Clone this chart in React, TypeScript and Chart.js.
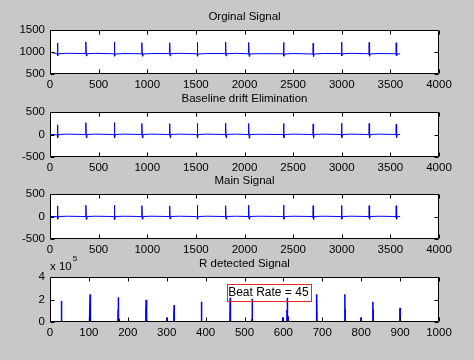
import React, { useEffect, useRef } from "react";
import { Chart, registerables } from "chart.js";

Chart.register(...registerables);

// ---------- data ----------
const ecgSamples = [
  0,
  69, 74, 77, 81, 87, 177,
  362, 367, 370, 374, 380, 470,
  654, 659, 662, 666, 672, 762,
  938, 943, 946, 950, 956, 1046,
  1223, 1228, 1231, 1235, 1241, 1331,
  1507, 1512, 1515, 1519, 1525, 1615,
  1798, 1803, 1806, 1810, 1816, 1906,
  2036, 2041, 2044, 2048, 2054, 2144,
  2394, 2399, 2402, 2406, 2412, 2502,
  2698, 2703, 2706, 2710, 2716, 2806,
  2990, 2995, 2998, 3002, 3008, 3098,
  3274, 3279, 3282, 3286, 3292, 3382,
  3552, 3557, 3560, 3564, 3570, 3600,
];

const originalSignal = [
  995,
  965, 950, 1205, 915, 960, 970,
  965, 950, 1230, 910, 960, 970,
  960, 945, 1230, 905, 955, 965,
  960, 945, 1210, 905, 955, 965,
  965, 950, 1210, 910, 960, 970,
  960, 945, 1220, 905, 955, 965,
  965, 950, 1225, 910, 960, 970,
  960, 945, 1215, 900, 955, 962,
  960, 945, 1215, 905, 955, 965,
  955, 940, 1200, 895, 955, 965,
  965, 950, 1225, 910, 960, 970,
  960, 945, 1215, 905, 955, 965,
  960, 945, 1210, 910, 960, 955,
];

const baselineRemoved = [
  0,
  -5, -15, 215, -70, 0, 8,
  0, -15, 265, -75, 0, 8,
  0, -15, 265, -75, 0, 8,
  0, -15, 245, -75, 0, 8,
  0, -15, 240, -70, 0, 8,
  0, -15, 245, -75, 0, 8,
  0, -15, 255, -70, 0, 8,
  0, -15, 245, -80, 0, 5,
  0, -15, 245, -75, 0, 8,
  0, -15, 235, -80, 0, 8,
  0, -15, 250, -70, 0, 8,
  0, -15, 245, -75, 0, 8,
  0, -15, 225, -65, 0, 0,
];

const mainSignal = [
  0,
  0, -20, 235, -60, 0, 6,
  0, -20, 250, -65, 0, 6,
  0, -20, 250, -70, 0, 6,
  0, -20, 240, -60, 0, 6,
  0, -20, 235, -55, 0, 6,
  0, -20, 250, -60, 0, 6,
  0, -20, 240, -60, 0, 6,
  0, -20, 250, -60, 0, 6,
  0, -20, 250, -60, 0, 6,
  0, -20, 240, -65, 0, 6,
  0, -20, 245, -60, 0, 6,
  0, -20, 240, -60, 0, 6,
  0, -20, 240, -60, 0, 0,
];

const rSpikeIndex = [
  29, 30, 101, 103, 104, 175, 176, 178, 246, 247, 249, 300, 318, 319, 389, 390,
  463, 464, 519, 520, 598, 609, 610, 612, 685, 686, 758, 759, 799, 830, 831, 899, 900,
];
const rSpikeValue = [
  124000, 187000, 38000, 246000, 160000, 110000, 220000, 30000, 120000, 198000, 30000, 40000, 83000, 151000, 180000, 130000,
  216000, 120000, 30000, 207000, 42000, 107000, 216000, 50000, 120000, 246000, 246000, 115000, 40000, 180000, 110000, 120000, 127000,
];
const rSignalEnd = 905;

const titles = ["Orginal Signal", "Baseline drift Elimination", "Main Signal", "R detected Signal"];
const beatRateLabel = "Beat Rate = 45";

// ---------- styling ----------
const FONT = "'Liberation Sans', Arial, Helvetica, sans-serif";
const BG = "rgb(200,200,200)";
const LINE = "rgb(0,0,255)";

type Cfg = {
  top: number;
  height: number;
  padTop: number;
  xAxisH: number;
  xMin: number;
  xMax: number;
  xStep: number;
  yMin: number;
  yMax: number;
  yStep: number;
  yFmt?: (v: number) => string;
  points: { x: number; y: number }[];
  title: string;
  lineWidth: number;
  extra?: (chart: any) => void;
};

function matlabPlugin(cfg: Cfg) {
  return {
    id: "matlabAxes",
    beforeDraw(chart: any) {
      const { ctx, chartArea: a } = chart;
      ctx.save();
      ctx.fillStyle = "#fff";
      ctx.fillRect(a.left, a.top, a.right - a.left, a.bottom - a.top);
      ctx.restore();
    },
    afterDraw(chart: any) {
      const { ctx, chartArea: a } = chart;
      const xs = chart.scales.x;
      const ys = chart.scales.y;
      const L = Math.round(a.left) + 0.5;
      const R = Math.round(a.right) - 0.5;
      const T = Math.round(a.top) + 0.5;
      const B = Math.round(a.bottom) - 0.5;
      ctx.save();
      ctx.strokeStyle = "#000";
      ctx.lineWidth = 1;
      ctx.beginPath();
      ctx.rect(L, T, R - L, B - T);
      const tl = 4;
      xs.ticks.forEach((t: any) => {
        const p = Math.round(xs.getPixelForValue(t.value)) + 0.5;
        ctx.moveTo(p, B);
        ctx.lineTo(p, B - tl);
        ctx.moveTo(p, T);
        ctx.lineTo(p, T + tl);
      });
      ys.ticks.forEach((t: any) => {
        const p = Math.round(ys.getPixelForValue(t.value)) + 0.5;
        ctx.moveTo(L, p);
        ctx.lineTo(L + tl, p);
        ctx.moveTo(R, p);
        ctx.lineTo(R - tl, p);
      });
      ctx.stroke();
      // title
      ctx.fillStyle = "#000";
      ctx.font = `11.5px ${FONT}`;
      ctx.textAlign = "center";
      ctx.textBaseline = "middle";
      ctx.fillText(cfg.title, (a.left + a.right) / 2, a.top - 13.5);
      ctx.restore();
      if (cfg.extra) cfg.extra(chart);
    },
  };
}

function drawRExtras(chart: any) {
  const { ctx, chartArea: a } = chart;
  const xs = chart.scales.x;
  const ys = chart.scales.y;
  ctx.save();
  ctx.fillStyle = "#000";
  ctx.textBaseline = "middle";
  ctx.textAlign = "left";
  ctx.font = `11.5px ${FONT}`;
  ctx.fillText("x 10", a.left, a.top - 10);
  const w = ctx.measureText("x 10").width;
  ctx.font = `8px ${FONT}`;
  ctx.fillText("5", a.left + w + 1, a.top - 18);
  // Beat rate label
  ctx.font = `12px ${FONT}`;
  const tx = xs.getPixelForValue(458);
  const ty = ys.getPixelForValue(258000);
  const tw = ctx.measureText(beatRateLabel).width;
  ctx.fillText(beatRateLabel, tx, ty);
  ctx.strokeStyle = "rgb(230,40,40)";
  ctx.lineWidth = 1;
  const bl = Math.round(tx - 1.5) + 0.5;
  const br = Math.round(tx + tw + 2) + 0.5;
  const bt = Math.round(ty - 9) + 0.5;
  const bb = Math.round(ty + 8.5) + 0.5;
  ctx.strokeRect(bl, bt, br - bl, bb - bt);
  ctx.restore();
}

function buildRPoints() {
  const pts: { x: number; y: number }[] = [{ x: 0, y: 0 }];
  rSpikeIndex.forEach((x, i) => {
    pts.push({ x: x - 0.5, y: 0 });
    pts.push({ x, y: rSpikeValue[i] });
    pts.push({ x: x + 0.5, y: 0 });
  });
  pts.push({ x: rSignalEnd, y: 0 });
  return pts;
}

const toPts = (ys: number[]) => ecgSamples.map((x, i) => ({ x, y: ys[i] }));

const configs: Cfg[] = [
  {
    top: 0, height: 90, padTop: 30, xAxisH: 16,
    xMin: 0, xMax: 4000, xStep: 500, yMin: 500, yMax: 1500, yStep: 500,
    points: toPts(originalSignal), title: titles[0], lineWidth: 1,
  },
  {
    top: 90, height: 82, padTop: 22, xAxisH: 15,
    xMin: 0, xMax: 4000, xStep: 500, yMin: -500, yMax: 500, yStep: 500,
    points: toPts(baselineRemoved), title: titles[1], lineWidth: 1,
  },
  {
    top: 172, height: 83, padTop: 22, xAxisH: 16,
    xMin: 0, xMax: 4000, xStep: 500, yMin: -500, yMax: 500, yStep: 500,
    points: toPts(mainSignal), title: titles[2], lineWidth: 1,
  },
  {
    top: 255, height: 105, padTop: 22, xAxisH: 38,
    xMin: 0, xMax: 1000, xStep: 100, yMin: 0, yMax: 400000, yStep: 200000,
    yFmt: (v: number) => String(v / 100000),
    points: buildRPoints(), title: titles[3], lineWidth: 1.5,
    extra: drawRExtras,
  },
];

function SubPlot({ cfg }: { cfg: Cfg }) {
  const ref = useRef<HTMLCanvasElement>(null);
  useEffect(() => {
    if (!ref.current) return;
    const tickFont = { family: FONT, size: 11.5 };
    const chart = new Chart(ref.current, {
      type: "line",
      data: {
        datasets: [
          {
            data: cfg.points,
            borderColor: LINE,
            borderWidth: cfg.lineWidth,
            pointRadius: 0,
            fill: false,
            tension: 0,
          },
        ],
      },
      options: {
        animation: false,
        responsive: false,
        maintainAspectRatio: false,
        events: [],
        layout: { padding: { top: cfg.padTop, right: 35, left: 0, bottom: 0 } },
        plugins: {
          legend: { display: false },
          tooltip: { enabled: false },
          title: { display: false },
        },
        scales: {
          x: {
            type: "linear",
            min: cfg.xMin,
            max: cfg.xMax,
            grid: { display: false, drawTicks: false },
            border: { display: false },
            ticks: {
              stepSize: cfg.xStep,
              autoSkip: false,
              maxRotation: 0,
              padding: 4,
              color: "#000",
              font: tickFont,
              callback: (v: any) => String(v),
            },
            afterFit(s: any) {
              s.height = cfg.xAxisH;
            },
          },
          y: {
            type: "linear",
            min: cfg.yMin,
            max: cfg.yMax,
            grid: { display: false, drawTicks: false },
            border: { display: false },
            ticks: {
              stepSize: cfg.yStep,
              autoSkip: false,
              padding: 5,
              color: "#000",
              font: tickFont,
              callback: (v: any) => (cfg.yFmt ? cfg.yFmt(Number(v)) : String(v)),
            },
            afterFit(s: any) {
              s.width = 50;
            },
          },
        },
      } as any,
      plugins: [matlabPlugin(cfg)],
    });
    return () => chart.destroy();
  }, [cfg]);
  return (
    <canvas
      ref={ref}
      width={474}
      height={cfg.height}
      style={{ position: "absolute", left: 0, top: cfg.top, width: 474, height: cfg.height, display: "block" }}
    />
  );
}

export default function App() {
  return (
    <div
      style={{
        position: "fixed",
        left: 0,
        top: 0,
        width: 474,
        height: 360,
        background: BG,
        overflow: "hidden",
      }}
    >
      {configs.map((c, i) => (
        <SubPlot key={i} cfg={c} />
      ))}
    </div>
  );
}
